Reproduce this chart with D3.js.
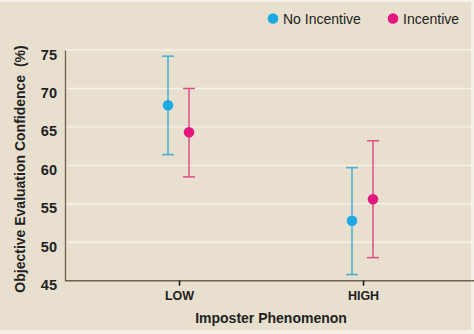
<!DOCTYPE html>
<html><head><meta charset="utf-8">
<script src="https://cdn.jsdelivr.net/npm/d3@7"></script>
<style>html,body{margin:0;padding:0;background:#f4f0e7;}svg{display:block;}</style>
</head><body>
<script>
const categories = ["LOW", "HIGH"];
const seriesNames = ["No Incentive", "Incentive"];
const noIncentiveMean = [67.8, 52.8];
const noIncentiveLow = [61.4, 45.8];
const noIncentiveHigh = [74.2, 59.7];
const incentiveMean = [64.3, 55.6];
const incentiveLow = [58.5, 48.0];
const incentiveHigh = [70.0, 63.2];
const yTicks = [45, 50, 55, 60, 65, 70, 75];
const colors = ["#1aa9e3", "#e3157f"];
const barColors = ["#4aaed0", "#dc4f88"];

const W = 474, H = 334;
const svg = d3.select("body").append("svg").attr("width", W).attr("height", H);
svg.append("rect").attr("x", 0).attr("y", 2).attr("width", 471).attr("height", 328).attr("fill", "#e8dfce");

const y = d3.scaleLinear().domain([45, 75]).range([280.7, 50]);
const x = d3.scalePoint().domain(categories).range([179, 363]);
const off = d3.scalePoint().domain(seriesNames).range([-11, 10]);
const FONT = "Liberation Sans, Arial, sans-serif";

// gridlines
svg.append("g").selectAll("line").data(yTicks.filter(t => t > 45)).join("line")
  .attr("x1", 65).attr("x2", 474).attr("y1", d => y(d)).attr("y2", d => y(d))
  .attr("stroke", "#f6f2ea").attr("stroke-width", 1.4);

// y axis
const yAxis = svg.append("g").attr("transform", "translate(65,0)")
  .call(d3.axisLeft(y).tickValues(yTicks).tickSize(0).tickPadding(8));
yAxis.select(".domain").attr("stroke", "#6e604f").attr("stroke-width", 1.3);
yAxis.selectAll("text").attr("font-family", FONT).attr("dy", "0.62em")
  .attr("font-size", 14.5).attr("font-weight", "bold").attr("fill", "#222");

// x axis
const xAxis = svg.append("g").attr("transform", "translate(0,280.7)")
  .call(d3.axisBottom(x).tickSize(5).tickPadding(5));
xAxis.select(".domain").attr("d", "M65,0H474").attr("stroke", "#6e604f").attr("stroke-width", 1.6);
xAxis.selectAll(".tick line").attr("stroke", "#111").attr("stroke-width", 1.5);
xAxis.selectAll("text").attr("font-family", FONT)
  .attr("font-size", 12.5).attr("font-weight", "bold").attr("fill", "#222");

svg.append("text").attr("x", 271).attr("y", 323).attr("text-anchor", "middle")
  .attr("font-family", FONT).attr("font-size", 14)
  .attr("font-weight", "bold").attr("fill", "#222").text("Imposter Phenomenon");

svg.append("text").attr("transform", "translate(25,169) rotate(-90)").attr("text-anchor", "middle")
  .attr("font-family", FONT).attr("font-size", 14)
  .attr("font-weight", "bold").attr("fill", "#222").attr("xml:space", "preserve")
  .text("Objective Evaluation Confidence  (%)");

const series = [
  {name: seriesNames[0], mean: noIncentiveMean, lo: noIncentiveLow, hi: noIncentiveHigh, c: colors[0], bc: barColors[0]},
  {name: seriesNames[1], mean: incentiveMean, lo: incentiveLow, hi: incentiveHigh, c: colors[1], bc: barColors[1]}
];

series.forEach(s => {
  const g = svg.append("g");
  const pts = categories.map((c, i) => ({cx: x(c) + off(s.name), m: s.mean[i], lo: s.lo[i], hi: s.hi[i]}));
  g.selectAll(".v").data(pts).join("line").attr("x1", d => d.cx).attr("x2", d => d.cx)
    .attr("y1", d => y(d.hi)).attr("y2", d => y(d.lo)).attr("stroke", s.bc).attr("stroke-width", 1.5);
  g.selectAll(".t").data(pts).join("line").attr("x1", d => d.cx - 6).attr("x2", d => d.cx + 6)
    .attr("y1", d => y(d.hi)).attr("y2", d => y(d.hi)).attr("stroke", s.bc).attr("stroke-width", 1.5);
  g.selectAll(".b").data(pts).join("line").attr("x1", d => d.cx - 6).attr("x2", d => d.cx + 6)
    .attr("y1", d => y(d.lo)).attr("y2", d => y(d.lo)).attr("stroke", s.bc).attr("stroke-width", 1.5);
  g.selectAll("circle").data(pts).join("circle").attr("cx", d => d.cx).attr("cy", d => y(d.m))
    .attr("r", 5.3).attr("fill", s.c);
});

// legend
const legX = [273, 393];
const leg = svg.append("g").selectAll("g").data(series).join("g")
  .attr("transform", (d, i) => `translate(${legX[i]},18.5)`);
leg.append("circle").attr("r", 5.3).attr("fill", d => d.c);
leg.append("text").attr("x", 10).attr("y", 5).attr("font-family", FONT)
  .attr("font-size", 14).attr("fill", "#222").text(d => d.name);
</script>
</body></html>
